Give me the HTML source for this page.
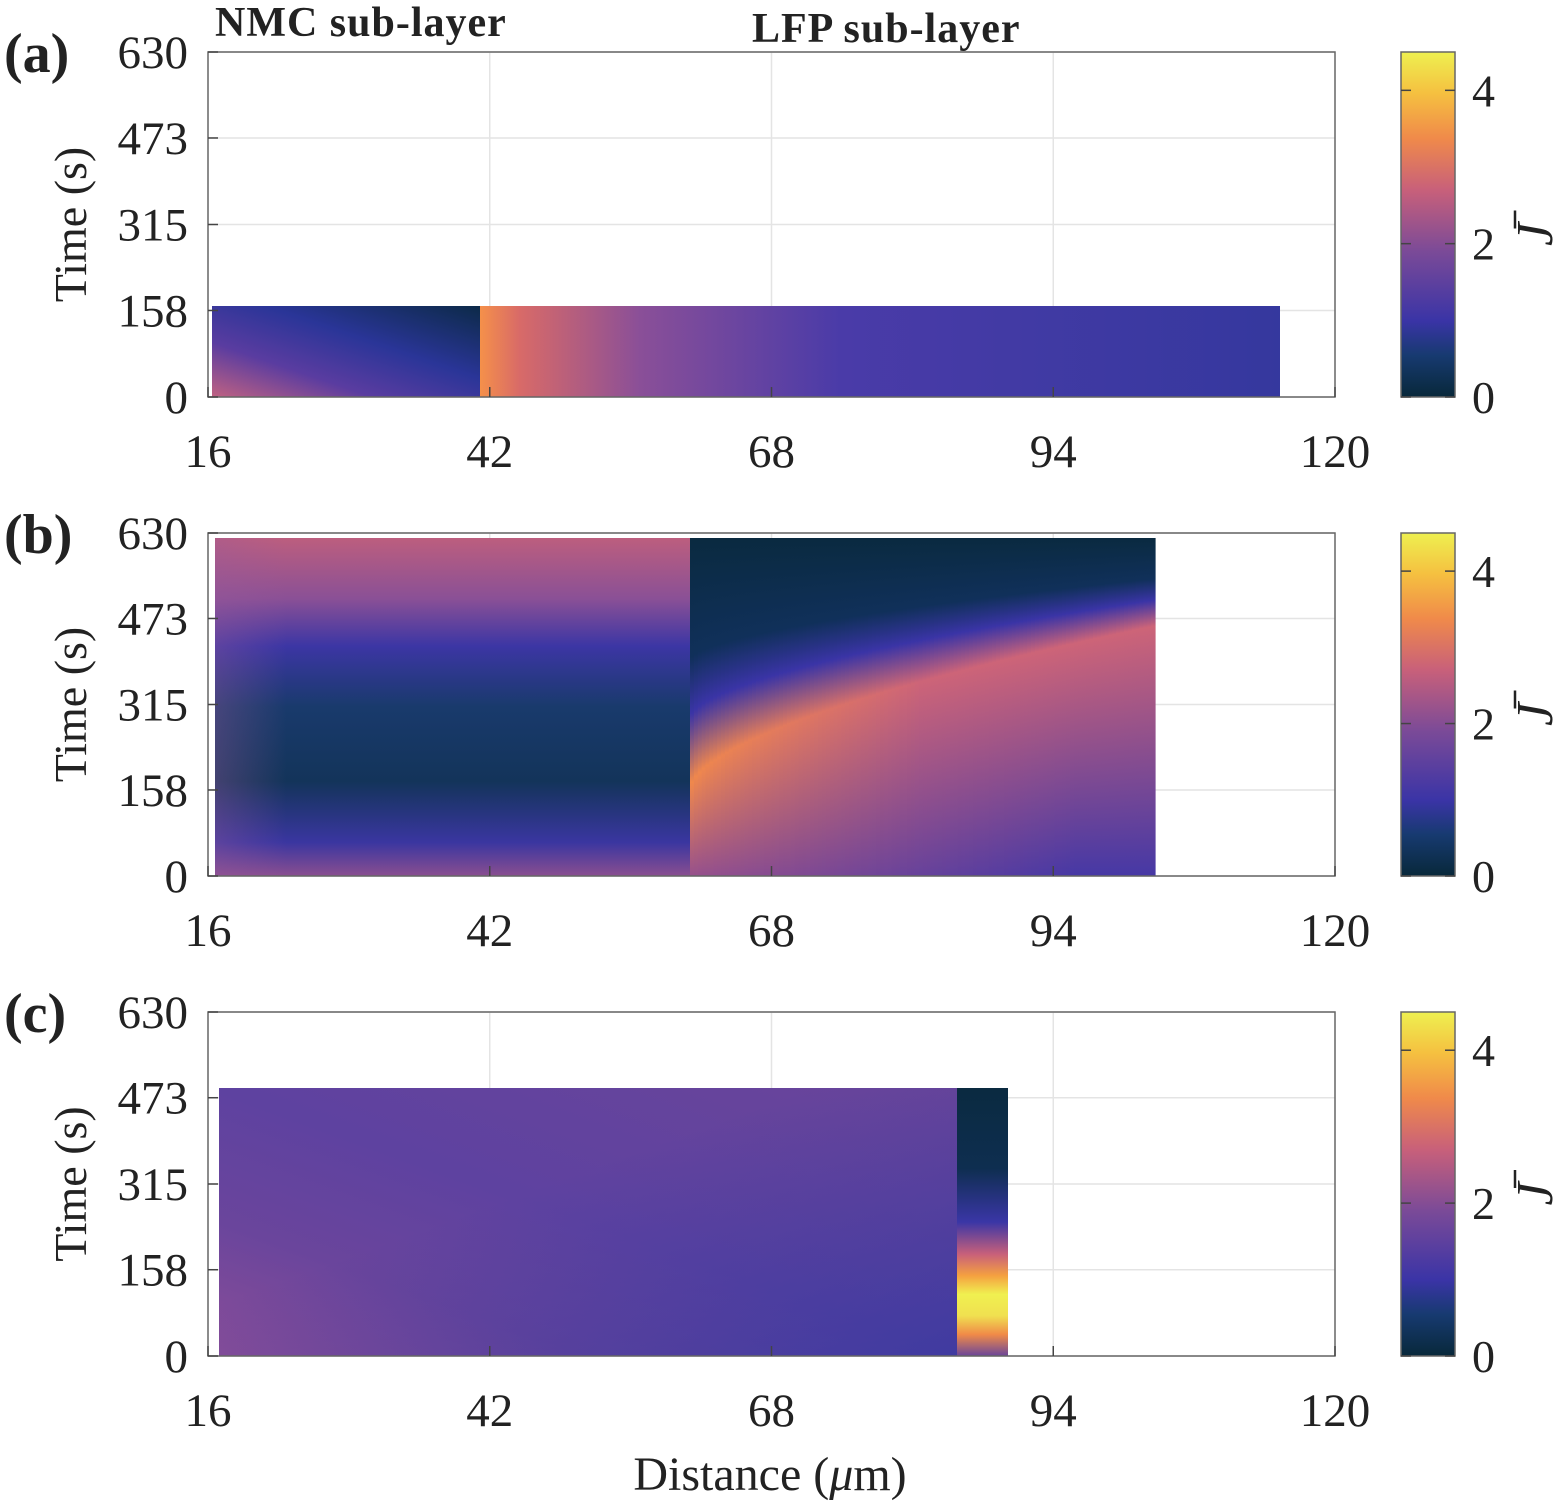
<!DOCTYPE html>
<html><head><meta charset="utf-8"><style>
body{margin:0;background:#fff;}
svg text{font-family:"Liberation Serif",serif;fill:#222;}
</style></head><body>
<svg id="s" width="1566" height="1502" xmlns="http://www.w3.org/2000/svg">
<defs>
<linearGradient id="cmap" x1="0" y1="1" x2="0" y2="0">
<stop offset="0" stop-color="#08283a"/><stop offset="0.12" stop-color="#173a70"/>
<stop offset="0.22" stop-color="#3a34a6"/><stop offset="0.42" stop-color="#7a4a98"/>
<stop offset="0.6" stop-color="#c8607a"/><stop offset="0.75" stop-color="#f08a4a"/>
<stop offset="0.88" stop-color="#f5c040"/><stop offset="1" stop-color="#eef050"/>
</linearGradient>
<linearGradient id="aN" x1="0" y1="1" x2="1" y2="0">
<stop offset="0" stop-color="#c06282"/><stop offset="0.3" stop-color="#5a3ca0"/>
<stop offset="0.6" stop-color="#2a3598"/><stop offset="1" stop-color="#0c2a48"/>
</linearGradient>
<linearGradient id="aL" x1="0" y1="0" x2="1" y2="0">
<stop offset="0" stop-color="#f5904a"/><stop offset="0.05" stop-color="#d86a68"/>
<stop offset="0.2" stop-color="#8a4f98"/><stop offset="0.45" stop-color="#4a3ba8"/>
<stop offset="1" stop-color="#35389e"/>
</linearGradient>
<linearGradient id="bN" x1="0" y1="0" x2="0" y2="1">
<stop offset="0" stop-color="#bc5e7e"/><stop offset="0.18" stop-color="#8a5096"/>
<stop offset="0.32" stop-color="#3c36a4"/><stop offset="0.5" stop-color="#193a6c"/>
<stop offset="0.72" stop-color="#13345a"/><stop offset="0.9" stop-color="#3a36a0"/>
<stop offset="1" stop-color="#8a4e90"/>
</linearGradient>
<linearGradient id="bNl" x1="0" y1="0" x2="1" y2="0">
<stop offset="0" stop-color="#9a5a9a" stop-opacity="0.35"/><stop offset="0.15" stop-color="#9a5a9a" stop-opacity="0"/>
</linearGradient>
<linearGradient id="cN" x1="0" y1="1" x2="1" y2="0">
<stop offset="0" stop-color="#8a4e98"/><stop offset="0.25" stop-color="#6a459c"/>
<stop offset="0.5" stop-color="#5e42a0"/><stop offset="1" stop-color="#6a459a"/>
</linearGradient>
<linearGradient id="cNb" x1="0" y1="0" x2="1" y2="1">
<stop offset="0.4" stop-color="#2c36a0" stop-opacity="0"/><stop offset="1" stop-color="#2c36a0" stop-opacity="0.6"/>
</linearGradient>
<linearGradient id="cL" x1="0" y1="0" x2="0" y2="1">
<stop offset="0" stop-color="#0a2a40"/><stop offset="0.3" stop-color="#0e2e50"/>
<stop offset="0.5" stop-color="#3a36a6"/><stop offset="0.62" stop-color="#c8607a"/>
<stop offset="0.7" stop-color="#f5a040"/><stop offset="0.77" stop-color="#f0f050"/>
<stop offset="0.85" stop-color="#f0e050"/><stop offset="0.92" stop-color="#f08a48"/>
<stop offset="1" stop-color="#6a459a"/>
</linearGradient>
</defs>
<g id="g"></g>
</svg>
<script>
var g=document.getElementById('g'),h='';
var X0=208,X1=1335;
function xs(v){return X0+(v-16)/104*(X1-X0);}
function panel(top,bot,lab){
  var H=bot-top;
  var ys=[0,158,315,473,630];
  [42,68,94].forEach(function(v){h+='<line x1="'+xs(v)+'" x2="'+xs(v)+'" y1="'+top+'" y2="'+bot+'" stroke="#e4e4e4" stroke-width="1.5"/>';});
  ys.forEach(function(v){var y=bot-v/630*H;h+='<line x1="'+X0+'" x2="'+X1+'" y1="'+y+'" y2="'+y+'" stroke="#e4e4e4" stroke-width="1.5"/>';});
  return function(){
    h+='<rect x="'+X0+'" y="'+top+'" width="'+(X1-X0)+'" height="'+H+'" fill="none" stroke="#666" stroke-width="1.5"/>';
    ys.forEach(function(v){var y=bot-v/630*H;h+='<text x="188" y="'+(y+16)+'" font-size="47" text-anchor="end">'+v+'</text>';
      h+='<line x1="'+X0+'" x2="'+(X0+10)+'" y1="'+y+'" y2="'+y+'" stroke="#444" stroke-width="1.5"/>';});
    [16,42,68,94,120].forEach(function(v){h+='<text x="'+xs(v)+'" y="'+(bot+70)+'" font-size="47" text-anchor="middle">'+v+'</text>';
      h+='<line x1="'+xs(v)+'" x2="'+xs(v)+'" y1="'+bot+'" y2="'+(bot-10)+'" stroke="#444" stroke-width="1.5"/>';});
    h+='<text transform="translate(86,'+(top+H/2)+') rotate(-90)" font-size="46" text-anchor="middle">Time (s)</text>';
    h+='<text x="4" y="'+(top+20)+'" font-size="56" font-weight="bold">'+lab+'</text>';
    h+='<rect x="1401" y="'+top+'" width="54" height="'+H+'" fill="url(#cmap)" stroke="#666" stroke-width="1.5"/>';
    [0,2,4].forEach(function(v){var y=bot-v/4.5*H;h+='<text x="1472" y="'+(y+16)+'" font-size="46">'+v+'</text>';
      h+='<line x1="1445" x2="1455" y1="'+y+'" y2="'+y+'" stroke="#444" stroke-width="1.5"/><line x1="1401" x2="1411" y1="'+y+'" y2="'+y+'" stroke="#444" stroke-width="1.5"/>';});
    h+='<text transform="translate(1552,'+(top+H/2+10)+') rotate(-90)" font-size="52" font-style="italic" text-anchor="middle">J</text>';
    h+='<line x1="1515" x2="1515" y1="'+(top+H/2-14)+'" y2="'+(top+H/2+4)+'" stroke="#222" stroke-width="2.5"/>';
  };
}
function hex(c){return '#'+c.map(function(v){v=Math.round(v);return (v<16?'0':'')+v.toString(16);}).join('');}
function lerp(a,b,t){return [0,1,2].map(function(i){return a[i]+(b[i]-a[i])*t;});}
var fa=panel(52,397,'(a)');
h+='<rect x="212" y="306" width="268" height="91" fill="url(#aN)"/>';
h+='<rect x="480" y="306" width="800" height="91" fill="url(#aL)"/>';
fa();
var fb=panel(533,876,'(b)');
h+='<rect x="215" y="538" width="476" height="338" fill="url(#bN)"/>';
h+='<rect x="215" y="538" width="476" height="338" fill="url(#bNl)"/>';
var N=120,x0=690,x1=1155,w=(x1-x0)/N;
var blue=[58,52,166],or=[240,136,76],pk=[205,100,120],pu=[150,80,140],bot=[70,56,165];
for(var i=0;i<N;i++){
  var f=(i+0.5)/N, fe=Math.pow(f,0.6);
  var d=0.36-0.24*fe, p=0.74-0.48*fe;
  var pc=lerp(or,pk,Math.min(1,f*2));
  var bc=lerp(pu,bot,Math.min(1,f*1.2));
  var id='bs'+i;
  h+='<linearGradient id="'+id+'" x1="0" y1="0" x2="0" y2="1"><stop offset="0" stop-color="#0a2a40"/><stop offset="'+d.toFixed(3)+'" stop-color="#10305a"/><stop offset="'+(d+(p-d)*0.45).toFixed(3)+'" stop-color="'+hex(blue)+'"/><stop offset="'+p.toFixed(3)+'" stop-color="'+hex(pc)+'"/><stop offset="1" stop-color="'+hex(bc)+'"/></linearGradient>';
  h+='<rect x="'+(x0+i*w).toFixed(2)+'" y="538" width="'+(w+0.6).toFixed(2)+'" height="338" fill="url(#'+id+')"/>';
}
fb();
var fc=panel(1012,1356,'(c)');
h+='<rect x="219" y="1088" width="738" height="268" fill="url(#cN)"/>';
h+='<rect x="219" y="1088" width="738" height="268" fill="url(#cNb)"/>';
h+='<rect x="957" y="1088" width="51" height="268" fill="url(#cL)"/>';
fc();
h+='<text x="215" y="36" font-size="42" font-weight="bold" letter-spacing="1">NMC  sub-layer</text>';
h+='<text x="752" y="42" font-size="42" font-weight="bold" letter-spacing="1">LFP  sub-layer</text>';
h+='<text x="770" y="1490" font-size="48" text-anchor="middle">Distance (<tspan font-style="italic">μ</tspan>m)</text>';
g.innerHTML=h;
</script>
</body></html>
